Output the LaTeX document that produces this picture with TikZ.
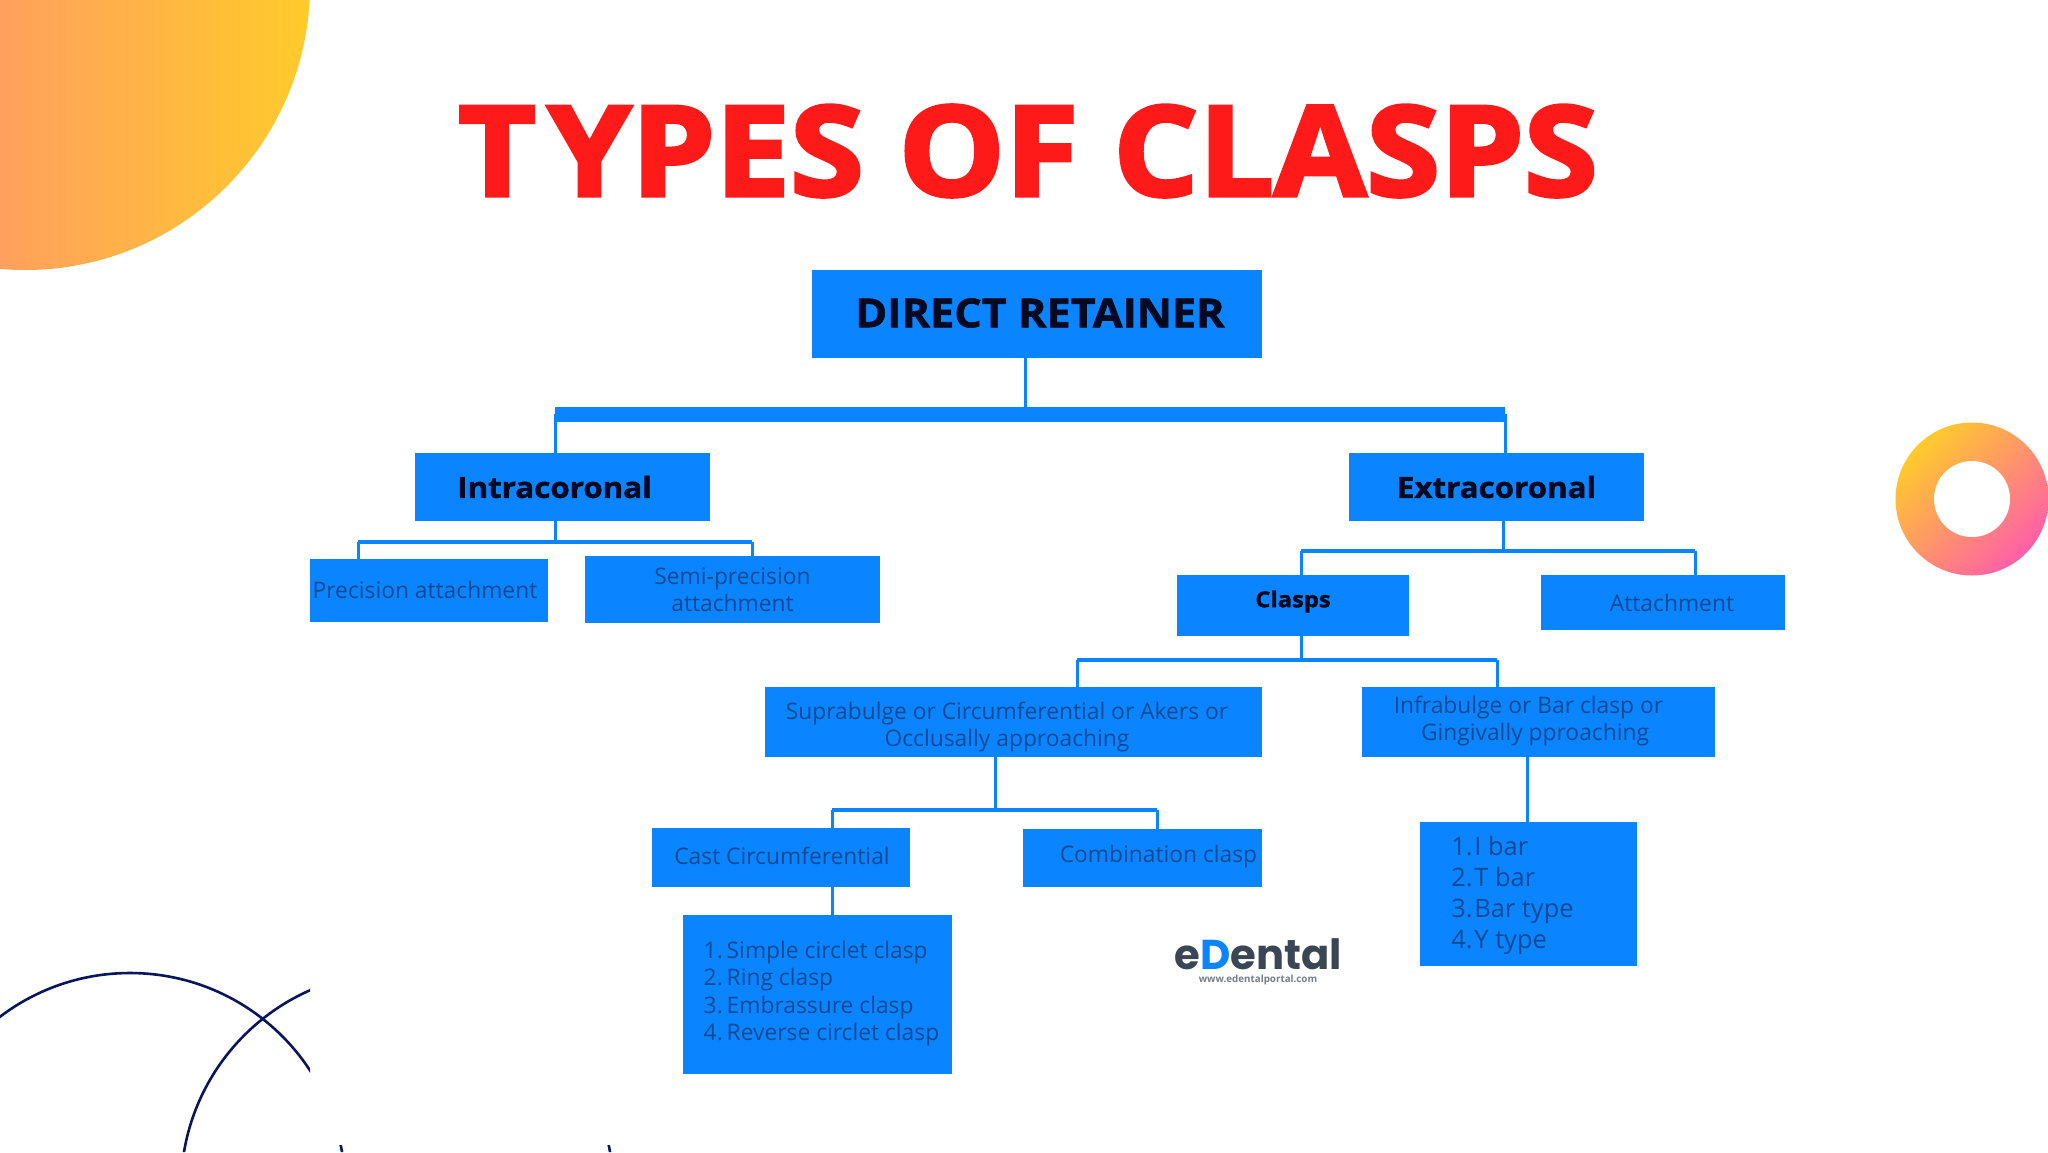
\documentclass[tikz,border=0pt]{standalone}
\usepackage{fontspec}
\setmainfont{Open Sans}
\newfontfamily\logofont{Poppins}
\newfontfamily\heavyfont[BoldFeatures={FakeBold=1.5,FakeStretch=1.08}]{Open Sans}
\newfontfamily\titlefont[BoldFeatures={FakeBold=3,FakeStretch=1.07}]{Open Sans}
\usetikzlibrary{positioning}
\definecolor{boxblue}{HTML}{0A84FF}
\definecolor{boxtext}{HTML}{0C4A94}
\definecolor{headtext}{HTML}{050A20}
\definecolor{titlered}{HTML}{FF1A1A}
\definecolor{arcnavy}{HTML}{0A1560}
\definecolor{logogrey}{HTML}{3A4654}
\definecolor{sunleft}{HTML}{FFA05E}
\definecolor{sunright}{HTML}{FFCB2B}
\definecolor{ringpink}{HTML}{FF5FA8}
\newcommand{\numline}[2]{\makebox[23pt][l]{#1}#2}

\begin{document}
\begin{tikzpicture}[x=1pt,y=-1pt,node distance=50pt]
    \tikzstyle{entry} = [rectangle, fill=boxblue, inner sep=0pt, outer sep=0pt]
    \tikzstyle{note} = [inner sep=0pt, text=boxtext, align=center, font=\fontsize{22.8}{27.5}\selectfont]
    \tikzstyle{listnote} = [note, align=left]
    \tikzstyle{headnote} = [note, text=headtext, font=\fontsize{29}{34}\heavyfont\bfseries\selectfont]
    \tikzstyle{link} = [draw=boxblue, line width=3pt]
    \tikzstyle{bus} = [draw=boxblue, line width=4.5pt]
    \useasboundingbox (0,0) rectangle (2048,1152);
    \fill[white] (0,0) rectangle (2048,1152);

    % Corner shapes
    \begin{scope}
        \clip (25,-15) circle (285);
        \shade[left color=sunleft, right color=sunright] (0,-5) rectangle (310,275);
    \end{scope}
    \shade[left color=sunright, right color=ringpink, shading angle=45] (1972,499) circle (76.5);
    \fill[white] (1972,499) circle (38);
    \begin{scope}
        \clip (0,900) -- (310,900) -- (310,1145) -- (2048,1145) -- (2048,1152) -- (0,1152) -- cycle;
        \draw[arcnavy, line width=2.6pt] (130,1188) circle (215);
        \draw[arcnavy, line width=2.6pt] (397,1188) circle (216);
    \end{scope}

    % Title
    \node[text=titlered, font=\fontsize{125}{125}\titlefont\bfseries\selectfont] (title) at (1028,151) {T\kern12pt YPES OF CLASPS};

    % Top level
    \node[entry, minimum width=450pt, minimum height=88pt, label={[headnote, xshift=3pt, yshift=1pt, font=\fontsize{40}{44}\heavyfont\bfseries\selectfont]center:DIRECT RETAINER}] (root) at (1037,314) {};
    \node[entry, minimum width=295pt, minimum height=68pt, below=95pt of root, xshift=-474.5pt, label={[headnote, xshift=-8pt]center:Intracoronal}] (intra) {};
    \node[entry, minimum width=295pt, minimum height=68pt, below=95pt of root, xshift=459.5pt, label={[headnote]center:Extracoronal}] (extra) {};

    % Intracoronal branch
    \node[entry, minimum width=238pt, minimum height=63pt, below=38pt of intra, xshift=-133.5pt, label={[note, xshift=-4pt, yshift=1pt]center:Precision attachment}] (prec) {};
    \node[entry, minimum width=295pt, minimum height=67pt, below=35pt of intra, xshift=170pt, label={[note]center:{Semi-precision\\attachment}}] (semi) {};

    % Extracoronal branch
    \node[entry, minimum width=232pt, minimum height=61pt, below=54pt of extra, xshift=-203.5pt, label={[headnote, yshift=4pt, font=\fontsize{22}{27}\heavyfont\bfseries\selectfont]center:Clasps}] (clasps) {};
    \node[entry, minimum width=244pt, minimum height=55pt, below=54pt of extra, xshift=166.5pt, label={[note, xshift=9pt]center:Attachment}] (attach) {};

    % Clasp groups
    \node[entry, minimum width=497pt, minimum height=70pt, below=51pt of clasps, xshift=-279.5pt, label={[note, xshift=-6.5pt, yshift=-5pt]center:{Suprabulge or Circumferential or Akers or\\Occlusally approaching}}] (supra) {};
    \node[entry, minimum width=353pt, minimum height=70pt, below=51pt of clasps, xshift=245.5pt, label={[note, xshift=-10pt, yshift=1pt]center:{Infrabulge or Bar clasp or\\\hspace*{13pt}Gingivally pproaching}}] (infra) {};
    \node[entry, minimum width=258pt, minimum height=59pt, below=71pt of supra, xshift=-232.5pt, label={[note, xshift=1pt, yshift=2pt]center:Cast Circumferential}] (cast) {};
    \node[entry, minimum width=239pt, minimum height=58pt, below=72pt of supra, xshift=129pt, label={[note, xshift=16pt, yshift=1pt]center:Combination clasp}] (comb) {};

    % Lists
    \node[entry, minimum width=269pt, minimum height=159pt, below=28pt of cast, xshift=36.5pt, label={[listnote, xshift=4pt, yshift=1pt]center:{\numline{1.}{Simple circlet clasp}\\\numline{2.}{Ring clasp}\\\numline{3.}{Embrassure clasp}\\\numline{4.}{Reverse circlet clasp}}}] (circlet) {};
    \node[entry, minimum width=217pt, minimum height=144pt, below=65pt of infra, xshift=-10pt, label={[listnote, xshift=-16pt, yshift=-1pt, font=\fontsize{25.4}{31}\selectfont]center:{\numline{1.}{I bar}\\\numline{2.}{T bar}\\\numline{3.}{Bar type}\\\numline{4.}{Y type}}}] (bars) {};

    % Logo
    \node[text=logogrey, font=\fontsize{41.7}{42}\logofont\bfseries\selectfont, inner sep=0pt] (logo) at (1258,954) {e\textcolor{boxblue}{D}ental};
    \node[text=logogrey!70, font=\fontsize{9.8}{10}\selectfont\bfseries, inner sep=0pt, below=5pt of logo] (url) {www.edentalportal.com};

    % Connectors
    \coordinate (topmid) at (1025,414);
    \coordinate (topleft) at (555,414);
    \coordinate (topright) at (1505,414);
    \draw[bus, line width=15pt] (topleft) -- (topright);
    \draw[link] (root.south -| topmid) -- (topmid);
    \draw[link] (topleft) -- (intra.north -| topleft);
    \draw[link] (topright) -- (extra.north -| topright);

    \coordinate (intramid) at (555,542);
    \coordinate (intraleft) at (358,542);
    \coordinate (intraright) at (752,542);
    \draw[bus] (intraleft) -- (intraright);
    \draw[link] (intra.south -| intramid) -- (intramid);
    \draw[link] (intraleft) -- (prec.north -| intraleft);
    \draw[link] (intraright) -- (semi.north -| intraright);

    \coordinate (extramid) at (1503,551);
    \coordinate (extraleft) at (1301,551);
    \coordinate (extraright) at (1695,551);
    \draw[bus] (extraleft) -- (extraright);
    \draw[link] (extra.south -| extramid) -- (extramid);
    \draw[link] (extraleft) -- (clasps.north -| extraleft);
    \draw[link] (extraright) -- (attach.north -| extraright);

    \coordinate (claspmid) at (1301,660);
    \coordinate (claspleft) at (1077,660);
    \coordinate (claspright) at (1497,660);
    \draw[bus] (claspleft) -- (claspright);
    \draw[link] (clasps.south -| claspmid) -- (claspmid);
    \draw[link] (claspleft) -- (supra.north -| claspleft);
    \draw[link] (claspright) -- (infra.north -| claspright);

    \coordinate (supramid) at (995,810);
    \coordinate (supraleft) at (832,810);
    \coordinate (supraright) at (1157,810);
    \draw[bus] (supraleft) -- (supraright);
    \draw[link] (supra.south -| supramid) -- (supramid);
    \draw[link] (supraleft) -- (cast.north -| supraleft);
    \draw[link] (supraright) -- (comb.north -| supraright);

    \draw[link] (cast.south -| supraleft) -- (circlet.north -| supraleft);
    \coordinate (infradrop) at (1527,790);
    \draw[link] (infra.south -| infradrop) -- (bars.north -| infradrop);
\end{tikzpicture}
\end{document}
